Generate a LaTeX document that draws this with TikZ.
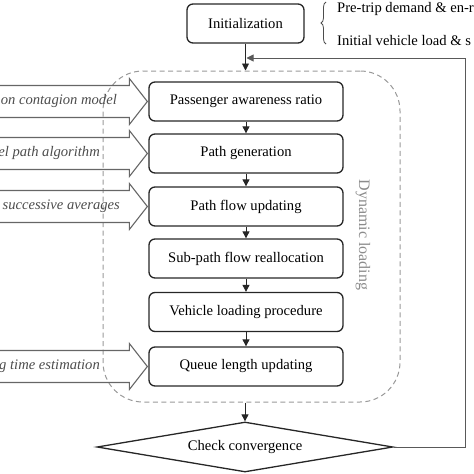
\documentclass[tikz,border=0pt]{standalone}
\usepackage{fontspec}
\setmainfont{Liberation Serif}
\usetikzlibrary{arrows.meta,shapes.geometric,decorations.pathreplacing}
\begin{document}
\begin{tikzpicture}[x=1pt,y=-1pt,
  stepbox/.style={draw=black!85,line width=1.3pt,rounded corners=6pt,minimum width=194pt,minimum height=39pt,inner sep=0pt,font=\fontsize{14.6}{16}\selectfont},
  flow/.style={draw=black!85,line width=0.9pt,-{Triangle[length=7pt,width=7pt]}},
  back/.style={draw=black!65,line width=0.9pt},
  hollow/.style={draw=black!60,line width=1.1pt,line join=miter},
  tag/.style={anchor=east,inner sep=0pt,text=black!70,font=\fontsize{14.6}{16}\selectfont\itshape},
  note/.style={anchor=west,inner sep=0pt,font=\fontsize{14.6}{16}\selectfont},
  loop/.style={draw=black!40,line width=1pt,dash pattern=on 5pt off 3.5pt,rounded corners=40pt}]
\useasboundingbox (0,0) rectangle (474,474);
\clip (0,0) rectangle (474,474);

\node[loop,minimum width=297pt,minimum height=331pt,inner sep=0pt] (dl) at (251.5,236.5) {};
\node[rotate=-90,text=black!45,font=\fontsize{16}{18}\selectfont] (dltext) at (363,235) {Dynamic loading};

\node[stepbox,minimum width=117pt] (init) at (245.5,23.5) {Initialization};
\node[stepbox] (b1) at (246,101.5) {Passenger awareness ratio};
\node[stepbox] (b2) at (246,153.5) {Path generation};
\node[stepbox] (b3) at (246,206.5) {Path flow updating};
\node[stepbox] (b4) at (246,258.5) {Sub-path flow reallocation};
\node[stepbox] (b5) at (246,312) {Vehicle loading procedure};
\node[stepbox] (b6) at (246,366.5) {Queue length updating};
\node[draw=black!85,line width=1.3pt,shape=diamond,aspect=5.92,minimum width=296pt,minimum height=50pt,inner sep=0pt,font=\fontsize{14.6}{16}\selectfont] (conv) at (245,447) {Check convergence};

% brace and notes
\coordinate (brb) at (326,44);
\coordinate (brt) at (326,2);
\draw[black!70,line width=0.8pt,decorate,decoration={brace,amplitude=5pt}] (brb) -- (brt);
\node[note] (n1) at (337,9) {Pre-trip demand \& en-r};
\node[note] (n2) at (337,41) {Initial vehicle load \& s};

% flow arrows
\draw[flow] (init.south) -- (init.south |- dl.north);
\draw[flow] (b1) -- (b2);
\draw[flow] (b2) -- (b3);
\draw[flow] (b3) -- (b4);
\draw[flow] (b4) -- (b5);
\draw[flow] (b5) -- (b6);
\draw[flow] (conv.north |- dl.south) -- (conv.north);
\coordinate (corner1) at (465,447);
\coordinate (corner2) at (465,58);
\coordinate (join) at (246.5,58);
\draw[back] (conv.east) -- (corner1) -- (corner2);
\draw[back,-{Triangle[length=7pt,width=7pt]}] (corner2) -- (join);

% hollow arrows
\foreach \b in {b1,b2,b3,b6}{
  \draw[hollow] ([xshift=-1pt]\b.west) ++(-158,-16) -- ++(140,0) -- ++(0,-7) -- ([xshift=-1pt]\b.west) -- ++(-18,23) -- ++(0,-7) -- ++(-140,0);
}
\node[tag] (t1) at (117,101) {on contagion model};
\node[tag] (t2) at (100,153) {el path algorithm};
\node[tag] (t3) at (120,206) {successive averages};
\node[tag] (t6) at (100,366) {g time estimation};
\end{tikzpicture}
\end{document}
